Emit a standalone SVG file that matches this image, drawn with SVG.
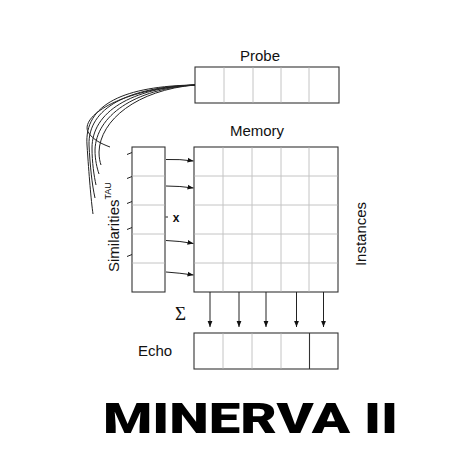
<svg xmlns="http://www.w3.org/2000/svg" width="474" height="474" viewBox="0 0 474 474">
<style>
.lbl{font-family:"Liberation Sans",Arial,sans-serif;font-size:15px;fill:#111}
.box{fill:#fff;stroke:#333;stroke-width:1.1}
.grid{stroke:#c4c4c4;stroke-width:1;fill:none}
.con{stroke:#222;stroke-width:1;fill:none}
.crv{stroke:#222;stroke-width:1;fill:none}
</style>
<defs>
<marker id="ah" viewBox="0 0 10 10" refX="10" refY="5" markerWidth="6" markerHeight="6" orient="auto" markerUnits="userSpaceOnUse">
<path d="M0,1 L10,5 L0,9 z" fill="#111"/>
</marker>
</defs>
<rect width="474" height="474" fill="#fff"/>

<g id="probe">
<rect class="box" x="195" y="67" width="144" height="36"/>
<path class="grid" d="M224,67.5V102.5M253,67.5V102.5M281,67.5V102.5M309,67.5V102.5"/>
<text class="lbl" x="260" y="61" text-anchor="middle">Probe</text>
</g>

<g id="memory">
<rect class="box" x="194" y="147" width="144" height="145"/>
<path class="grid" d="M223,147.5V291.5M252,147.5V291.5M281,147.5V291.5M309,147.5V291.5M194.5,176H337.5M194.5,205H337.5M194.5,234H337.5M194.5,263H337.5"/>
<text class="lbl" x="257" y="136" text-anchor="middle">Memory</text>
<text class="lbl" transform="translate(366,234) rotate(-90)" text-anchor="middle">Instances</text>
</g>

<g id="similarities">
<rect class="box" x="132" y="147" width="33" height="145"/>
<path class="grid" d="M132.5,176H164.5M132.5,205H164.5M132.5,234H164.5M132.5,263H164.5"/>
<text class="lbl" transform="translate(119,272) rotate(-90)">Similarities<tspan font-size="9" dy="-8">TAU</tspan></text>
</g>

<g id="echo">
<rect class="box" x="194" y="333" width="144" height="36"/>
<path class="grid" d="M223,333.5V368.5M252,333.5V368.5M281,333.5V368.5"/>
<path d="M309.5,333V369" stroke="#333" stroke-width="1.1"/>
<text class="lbl" x="155" y="356" text-anchor="middle">Echo</text>
</g>

<g id="connectors">
<path class="crv" d="M195,85 C125,86 84,104 87,145 C89,175 91,200 93,214"/>
<path class="crv" d="M195,85 C128,87 88,108 89,145 C90,165 92,185 95,198"/>
<path class="crv" d="M195,85 C131,88 92,112 92,148 C92,162 94,176 96,185"/>
<path class="crv" d="M195,85 C134,89 96,116 95,150 C95,160 97,168 99,174"/>
<path class="crv" d="M195,85 C137,90 100,120 99,152 C99,158 100,162 101,165"/>
<path class="crv" d="M195,85 C125,88 80,115 88,132 C93,140 102,144 110,147"/>
<path class="con" d="M127,154.5L132,152.5M127,178.5L132,176.5M127,203.5L132,201.5M127,229.5L132,227.5M127,256.5L132,254.5"/>
<path class="con" marker-end="url(#ah)" d="M166,159.5 Q180,159 193.5,161"/>
<path class="con" marker-end="url(#ah)" d="M166,186 Q180,186 193.5,188"/>
<path class="con" marker-end="url(#ah)" d="M166,240.5 Q180,241 193.5,243.5"/>
<path class="con" marker-end="url(#ah)" d="M166,272 Q180,273 193.5,275"/>
<path class="con" d="M165.5,217H168"/>
<path class="con" marker-end="url(#ah)" d="M210,292V327"/>
<path class="con" marker-end="url(#ah)" d="M239,292V327"/>
<path class="con" marker-end="url(#ah)" d="M266,292V327"/>
<path class="con" marker-end="url(#ah)" d="M296.5,292V327"/>
<path class="con" marker-end="url(#ah)" d="M323.5,292V327"/>
</g>

<text x="176" y="222" text-anchor="middle" font-family="Liberation Sans,Arial,sans-serif" font-size="12" font-weight="bold" fill="#111">x</text>
<text x="180.5" y="320" text-anchor="middle" font-family="Liberation Serif,Times New Roman,serif" font-size="19" fill="#111">Σ</text>

<text id="title" x="103" y="433" font-family="Roboto,Inter,Arial,sans-serif" font-size="42" font-weight="900" fill="#000" textLength="295" lengthAdjust="spacingAndGlyphs">MINERVA II</text>
</svg>
